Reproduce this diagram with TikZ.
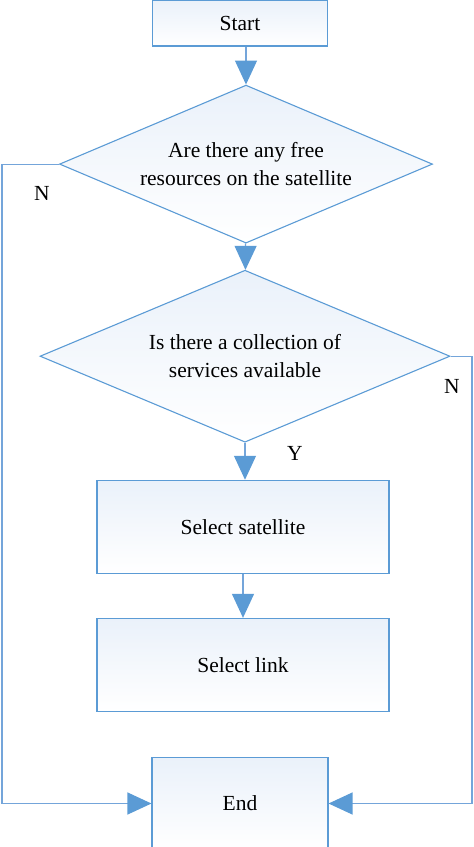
\documentclass[tikz,border=0pt]{standalone}
\usepackage{fontspec}
\setmainfont{Liberation Serif}
\usetikzlibrary{arrows.meta,positioning,shapes.geometric}
\definecolor{flowblue}{HTML}{5B9BD5}
\definecolor{lineblue}{HTML}{74A5DA}
\definecolor{paleblue}{HTML}{EAF1FA}

\begin{document}
\begin{tikzpicture}[
  x=1pt,y=-1pt,
  every node/.style={font=\fontsize{21.5}{28}\selectfont},
  stepbox/.style={draw=flowblue,line width=1.1pt,top color=paleblue,bottom color=white,minimum width=292pt,minimum height=93pt},
  test/.style={diamond,aspect=2.4,draw=flowblue,line width=1.1pt,top color=paleblue,bottom color=white,align=center,inner sep=1pt},
  flow/.style={draw=lineblue,line width=1.2pt,-{Triangle[length=24pt,width=22pt,color=flowblue]}}
]
  \useasboundingbox (0,0) rectangle (474,847);
  \node[stepbox,minimum width=175pt,minimum height=46pt] (start) at (240,23) {Start};
  \node[test,minimum width=373pt,minimum height=158pt,below=38pt of start,xshift=6pt] (q1) {Are there any free\\resources on the satellite};
  \node[test,minimum width=410pt,minimum height=172pt,below=26pt of q1,xshift=-1pt] (q2) {Is there a collection of\\services available};
  \node[stepbox,below=37pt of q2,xshift=-2pt] (sat) {Select satellite};
  \node[stepbox,below=44pt of sat] (link) {Select link};
  \node[stepbox,minimum width=176pt,minimum height=92pt,below=45pt of link,xshift=-3pt] (end) {End};

  \coordinate (lside) at (2,0);
  \coordinate (rside) at (472,0);
  \node (nleft) at (42,193) {N};
  \node (nright) at (452,386) {N};
  \node (yes) at (295,453) {Y};

  \draw[flow] (start.south -| q1.north) -- (q1);
  \draw[flow] (q1) -- (q2);
  \draw[flow] (q2) -- (q2.south |- sat.north);
  \draw[flow] (sat) -- (link);
  \draw[flow] (q1.west) -- (q1.west -| lside) |- (end.west);
  \draw[flow] (q2.east) -- (q2.east -| rside) |- (end.east);
\end{tikzpicture}
\end{document}
